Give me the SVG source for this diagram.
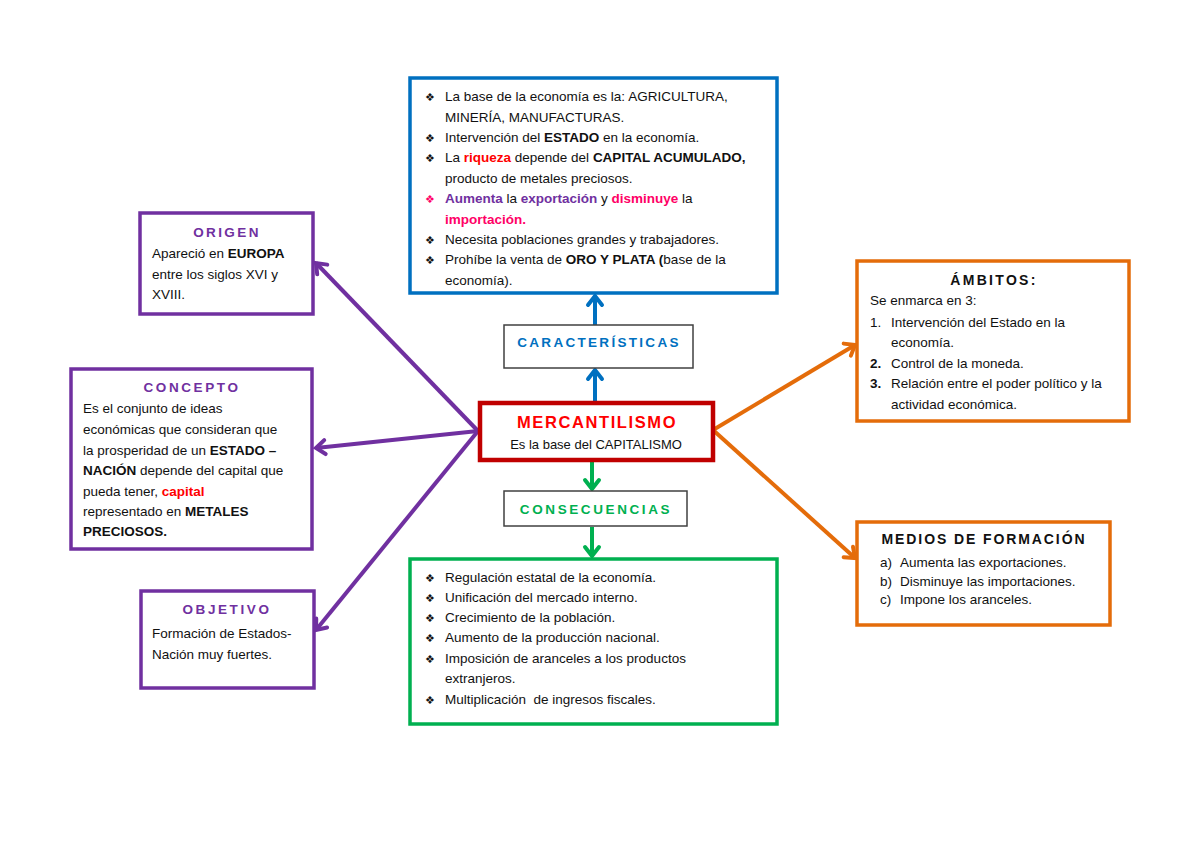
<svg xmlns="http://www.w3.org/2000/svg" width="1200" height="849" viewBox="0 0 1200 849">
<style>
  text { font-family: "Liberation Sans", Arial, sans-serif; font-size: 13.5px; }
  .b { font-weight: bold; }
  .bul { font-family: "DejaVu Sans", sans-serif; font-size: 11px; }
  .ttl { font-weight: bold; font-size: 13.5px; text-anchor: middle; }
  .ttl14 { font-size: 14px; }
  .main { font-weight: bold; font-size: 16.5px; text-anchor: middle; }
  .sub { font-size: 13px; text-anchor: middle; }
  .box { fill: #fff; stroke-width: 3.5; }
  .lbl { fill: #fff; stroke: #404040; stroke-width: 1.5; }
  .con { fill: none; stroke-width: 4; }
  .blue { fill: #0070C0; }
  .green { fill: #00B050; }
  .purple { fill: #7030A0; }
  .red { fill: #FF0000; }
  .pink { fill: #FF0066; }
  .dark { fill: #111111; }
</style>
<defs>
  <marker id="hBlue" markerUnits="userSpaceOnUse" markerWidth="24" markerHeight="24" viewBox="-12 -12 24 24" refX="0" refY="0" orient="auto">
    <path d="M-9,-7 L0,0 L-9,7" fill="none" stroke="#0070C0" stroke-width="4" stroke-linecap="round"/>
  </marker>
  <marker id="hGreen" markerUnits="userSpaceOnUse" markerWidth="24" markerHeight="24" viewBox="-12 -12 24 24" refX="0" refY="0" orient="auto">
    <path d="M-9,-7 L0,0 L-9,7" fill="none" stroke="#00B050" stroke-width="4" stroke-linecap="round"/>
  </marker>
  <marker id="hPurple" markerUnits="userSpaceOnUse" markerWidth="24" markerHeight="24" viewBox="-12 -12 24 24" refX="0" refY="0" orient="auto">
    <path d="M-9,-7 L0,0 L-9,7" fill="none" stroke="#7030A0" stroke-width="4" stroke-linecap="round"/>
  </marker>
  <marker id="hOrange" markerUnits="userSpaceOnUse" markerWidth="24" markerHeight="24" viewBox="-12 -12 24 24" refX="0" refY="0" orient="auto">
    <path d="M-9,-7 L0,0 L-9,7" fill="none" stroke="#E46C0A" stroke-width="4" stroke-linecap="round"/>
  </marker>
</defs>
<rect width="1200" height="849" fill="#fff"/>

<g id="connectors">
  <line class="con" stroke="#0070C0" x1="595" y1="325" x2="595" y2="296" marker-end="url(#hBlue)"/>
  <line class="con" stroke="#0070C0" x1="595" y1="401" x2="595" y2="370" marker-end="url(#hBlue)"/>
  <line class="con" stroke="#00B050" x1="592" y1="462" x2="592" y2="489" marker-end="url(#hGreen)"/>
  <line class="con" stroke="#00B050" x1="592" y1="527" x2="592" y2="556" marker-end="url(#hGreen)"/>
  <line class="con" stroke="#7030A0" x1="478" y1="431" x2="316" y2="263" marker-end="url(#hPurple)"/>
  <line class="con" stroke="#7030A0" x1="478" y1="431" x2="316" y2="448" marker-end="url(#hPurple)"/>
  <line class="con" stroke="#7030A0" x1="478" y1="431" x2="316" y2="630" marker-end="url(#hPurple)"/>
  <line class="con" stroke="#E46C0A" x1="713" y1="430" x2="855" y2="345" marker-end="url(#hOrange)"/>
  <line class="con" stroke="#E46C0A" x1="713" y1="430" x2="855" y2="558" marker-end="url(#hOrange)"/>
</g>

<g id="caracteristicas-box" class="dark">
  <rect class="box" stroke="#0070C0" x="410" y="78" width="367" height="215"/>
  <text class="bul" x="425" y="101">❖</text>
  <text x="445" y="101">La base de la economía es la: AGRICULTURA,</text>
  <text x="445" y="121.5">MINERÍA, MANUFACTURAS.</text>
  <text class="bul" x="425" y="142">❖</text>
  <text x="445" y="142">Intervención del <tspan class="b">ESTADO</tspan> en la economía.</text>
  <text class="bul" x="425" y="162">❖</text>
  <text x="445" y="162">La <tspan class="b red">riqueza</tspan> depende del <tspan class="b">CAPITAL ACUMULADO,</tspan></text>
  <text x="445" y="182.5">producto de metales preciosos.</text>
  <text class="bul pink" x="425" y="203">❖</text>
  <text x="445" y="203"><tspan class="b purple">Aumenta</tspan> la <tspan class="b purple">exportación</tspan> y <tspan class="b pink">disminuye</tspan> la</text>
  <text x="445" y="223.5" class="b pink">importación.</text>
  <text class="bul" x="425" y="244">❖</text>
  <text x="445" y="244">Necesita poblaciones grandes y trabajadores.</text>
  <text class="bul" x="425" y="264">❖</text>
  <text x="445" y="264">Prohíbe la venta de <tspan class="b">ORO Y PLATA (</tspan>base de la</text>
  <text x="445" y="285">economía).</text>
</g>

<g id="caracteristicas-label">
  <rect class="lbl" x="504" y="325" width="189" height="43"/>
  <text class="ttl blue" x="599" y="347" letter-spacing="2.3">CARACTERÍSTICAS</text>
</g>

<g id="mercantilismo" class="dark">
  <rect fill="#fff" stroke="#C00000" stroke-width="4.5" x="480" y="403" width="233" height="57"/>
  <text class="main red" x="597" y="428" letter-spacing="1.6">MERCANTILISMO</text>
  <text class="sub" x="596" y="449">Es la base del CAPITALISMO</text>
</g>

<g id="consecuencias-label">
  <rect class="lbl" x="504" y="491" width="183" height="35"/>
  <text class="ttl green" x="596" y="514" letter-spacing="2.6">CONSECUENCIAS</text>
</g>

<g id="consecuencias-box" class="dark">
  <rect class="box" stroke="#00B050" x="410" y="559" width="367" height="165"/>
  <text class="bul" x="425" y="582">❖</text>
  <text x="445" y="582">Regulación estatal de la economía.</text>
  <text class="bul" x="425" y="602">❖</text>
  <text x="445" y="602">Unificación del mercado interno.</text>
  <text class="bul" x="425" y="622">❖</text>
  <text x="445" y="622">Crecimiento de la población.</text>
  <text class="bul" x="425" y="642">❖</text>
  <text x="445" y="642">Aumento de la producción nacional.</text>
  <text class="bul" x="425" y="662.5">❖</text>
  <text x="445" y="662.5">Imposición de aranceles a los productos</text>
  <text x="445" y="683">extranjeros.</text>
  <text class="bul" x="425" y="703.5">❖</text>
  <text x="445" y="703.5" xml:space="preserve">Multiplicación  de ingresos fiscales.</text>
</g>

<g id="origen" class="dark">
  <rect class="box" stroke="#7030A0" x="140" y="213" width="173" height="101"/>
  <text class="ttl purple" x="227" y="237" letter-spacing="2.4">ORIGEN</text>
  <text x="152" y="258">Apareció en <tspan class="b">EUROPA</tspan></text>
  <text x="152" y="279">entre los siglos XVI y</text>
  <text x="152" y="299">XVIII.</text>
</g>

<g id="concepto" class="dark">
  <rect class="box" stroke="#7030A0" x="71" y="369" width="241" height="180"/>
  <text class="ttl purple" x="192" y="392" letter-spacing="2.6">CONCEPTO</text>
  <text x="83" y="413">Es el conjunto de ideas</text>
  <text x="83" y="434">económicas que consideran que</text>
  <text x="83" y="454.5">la prosperidad de un <tspan class="b">ESTADO –</tspan></text>
  <text x="83" y="475"><tspan class="b">NACIÓN</tspan> depende del capital que</text>
  <text x="83" y="496">pueda tener, <tspan class="b red">capital</tspan></text>
  <text x="83" y="516">representado en <tspan class="b">METALES</tspan></text>
  <text x="83" y="536" class="b">PRECIOSOS.</text>
</g>

<g id="objetivo" class="dark">
  <rect class="box" stroke="#7030A0" x="141" y="591" width="173" height="97"/>
  <text class="ttl purple" x="227" y="614" letter-spacing="2.6">OBJETIVO</text>
  <text x="152" y="638">Formación de Estados-</text>
  <text x="152" y="659">Nación muy fuertes.</text>
</g>

<g id="ambitos" class="dark">
  <rect class="box" stroke="#E46C0A" x="857" y="261" width="272" height="160"/>
  <text class="ttl ttl14" x="994" y="285" letter-spacing="2.3">ÁMBITOS:</text>
  <text x="870" y="305">Se enmarca en 3:</text>
  <text x="870" y="327">1.</text>
  <text x="891" y="327">Intervención del Estado en la</text>
  <text x="891" y="347">economía.</text>
  <text x="870" y="368" class="b">2.</text>
  <text x="891" y="368">Control de la moneda.</text>
  <text x="870" y="388" class="b">3.</text>
  <text x="891" y="388">Relación entre el poder político y la</text>
  <text x="891" y="409">actividad económica.</text>
</g>

<g id="medios" class="dark">
  <rect class="box" stroke="#E46C0A" x="857" y="522" width="253" height="103"/>
  <text class="ttl ttl14" x="984" y="544" letter-spacing="1.9">MEDIOS DE FORMACIÓN</text>
  <text x="880" y="567">a)</text>
  <text x="900" y="567">Aumenta las exportaciones.</text>
  <text x="880" y="585.5">b)</text>
  <text x="900" y="585.5">Disminuye las importaciones.</text>
  <text x="880" y="604">c)</text>
  <text x="900" y="604">Impone los aranceles.</text>
</g>
</svg>
